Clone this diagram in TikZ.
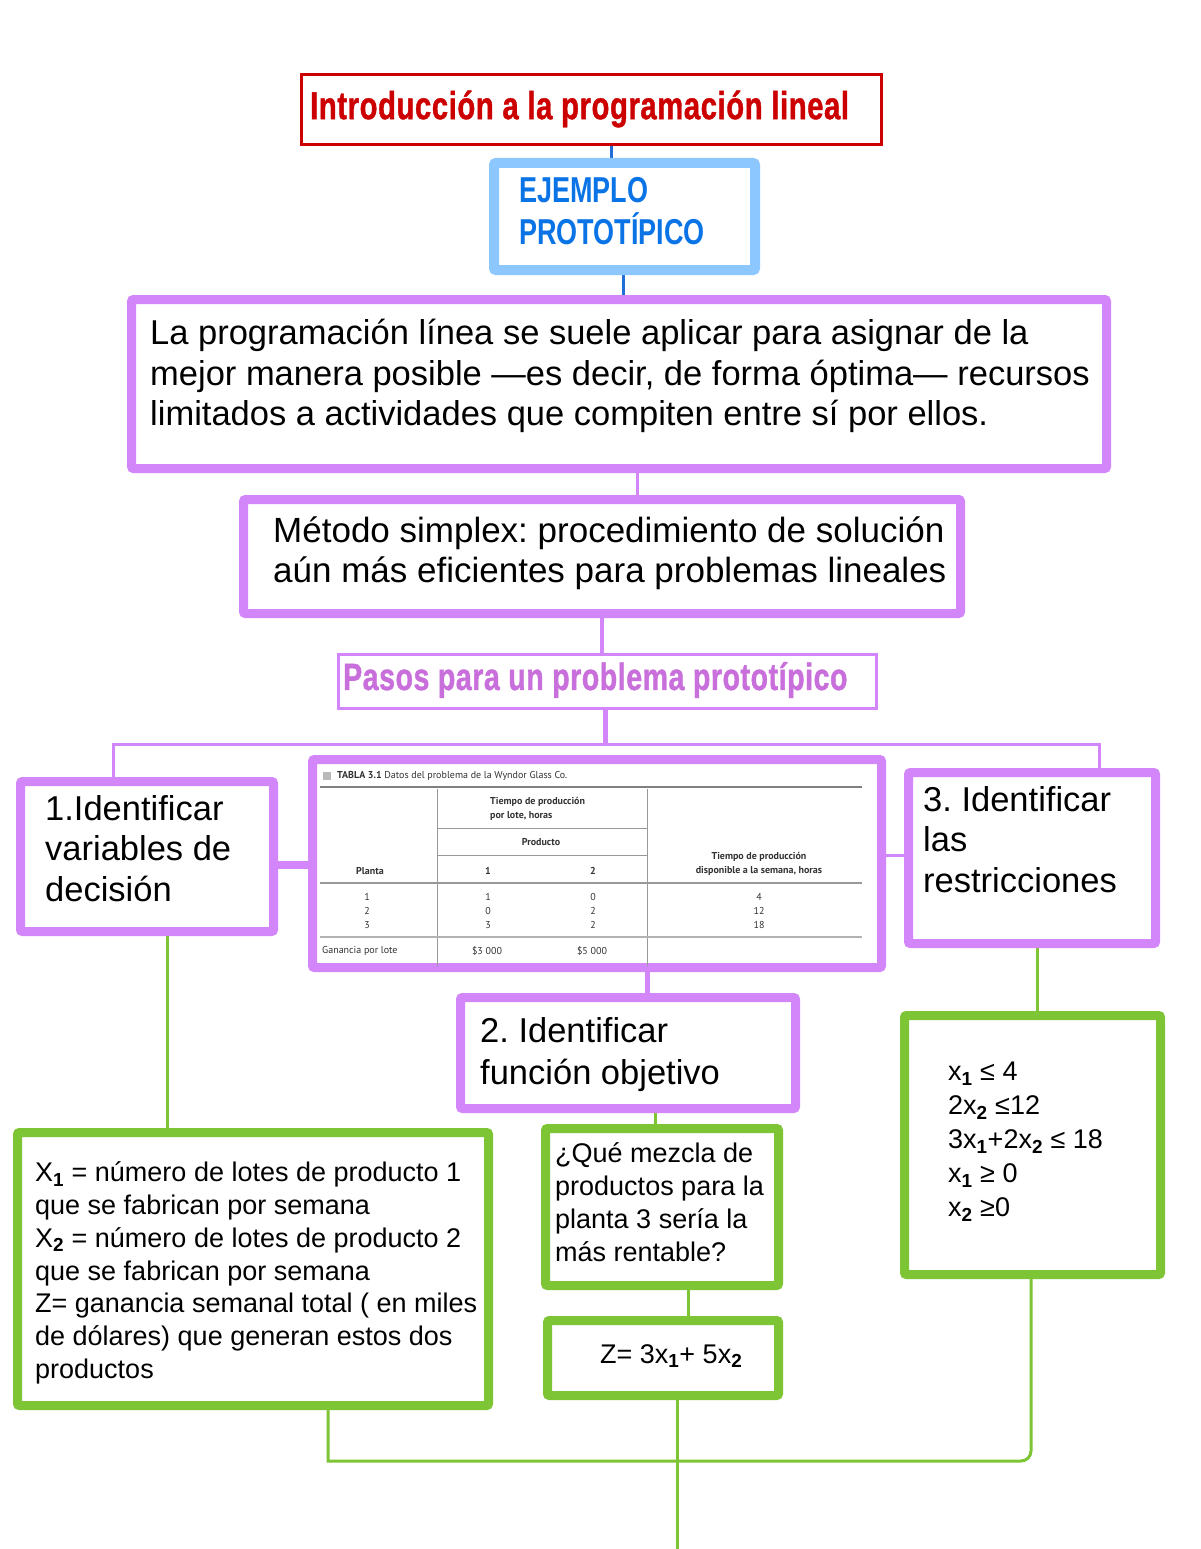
\documentclass[tikz,border=0pt]{standalone}
\usepackage{fontspec}
\setmainfont{Liberation Sans}
\newfontfamily\angosta[FakeStretch=0.75]{Liberation Sans}
\newfontfamily\angostaesp[FakeStretch=0.75, LetterSpace=1.5, FakeBold=1]{Liberation Sans}
\newfontfamily\tablafont{PT Sans}
\usetikzlibrary{backgrounds}
\frenchspacing

\definecolor{rojo}{HTML}{CC0000}
\definecolor{celeste}{HTML}{8CC8FF}
\definecolor{azul}{HTML}{0A74E6}
\definecolor{azullinea}{HTML}{1F6FD6}
\definecolor{morado}{HTML}{D386FA}
\definecolor{moradotxt}{HTML}{C96FDC}
\definecolor{verde}{HTML}{7DC535}

\newcommand{\subind}[1]{\textsubscript{\textbf{#1}}}

\begin{document}
\begin{tikzpicture}[
    x=1pt, y=-1pt,
    caja/.style={draw, fill=white, line width=9pt, rounded corners=2pt, inner sep=0pt},
    caja morada/.style={caja, draw=morado},
    caja verde/.style={caja, draw=verde},
    texto/.style={anchor=west, align=left, inner sep=0pt},
    texto grande/.style={texto, font=\fontsize{34.5}{40.5}\selectfont},
    texto medio/.style={texto, font=\fontsize{27}{32.8}\selectfont},
    enlace/.style={line width=3pt},
    celda/.style={font=\tablafont\fontsize{10}{14}\selectfont, text=black!80, inner sep=0pt},
    celda negrita/.style={celda, font=\tablafont\bfseries\fontsize{10}{14}\selectfont}
  ]

  \useasboundingbox (0,0) rectangle (1200,1549);

  % cajas
  \node[draw=rojo, line width=3pt, fill=white, minimum width=580pt, minimum height=70pt, inner sep=0pt] (titulo) at (591,109.5) {};
  \node[caja, draw=celeste, line width=10pt, minimum width=261pt, minimum height=107pt] (ejemplo) at (624.5,216.5) {};
  \node[caja morada, minimum width=975pt, minimum height=169pt] (intro) at (619,384) {};
  \node[caja morada, minimum width=717pt, minimum height=114pt] (simplex) at (602,556.5) {};
  \node[draw=morado, line width=3pt, fill=white, minimum width=538pt, minimum height=54pt, inner sep=0pt] (pasos) at (607.5,681.5) {};
  \node[caja morada, minimum width=253pt, minimum height=150pt] (paso1) at (147,856.5) {};
  \node[caja morada, minimum width=569pt, minimum height=208pt] (tabla) at (597,863.5) {};
  \node[caja morada, minimum width=247pt, minimum height=171pt] (paso3) at (1032,858) {};
  \node[caja morada, minimum width=335pt, minimum height=111pt] (paso2) at (628,1053) {};
  \node[caja verde, minimum width=471pt, minimum height=273pt] (variables) at (253,1269) {};
  \node[caja verde, minimum width=233pt, minimum height=157pt] (pregunta) at (662,1207) {};
  \node[caja verde, minimum width=231pt, minimum height=75pt] (zfun) at (663,1358) {};
  \node[caja verde, minimum width=256pt, minimum height=259pt] (restr) at (1032.5,1145) {};

  % textos
  \node[texto, text=rojo, font=\angostaesp\bfseries\fontsize{39}{44}\selectfont] (titulo-txt) at (310,109) {Introducción a la programación lineal};
  \node[texto, text=azul, font=\angosta\bfseries\fontsize{36}{42}\selectfont] (ejemplo-txt) at (519,211) {EJEMPLO\\PROTOTÍPICO};
  \node[texto grande] (intro-txt) at (150,376) {La programación línea se suele aplicar para asignar de la\\mejor manera posible —es decir, de forma óptima— recursos\\limitados a actividades que compiten entre sí por ellos.};
  \node[texto grande, font=\fontsize{35}{40.5}\selectfont] (simplex-txt) at (273,553) {Método simplex: procedimiento de solución\\aún más eficientes para problemas lineales};
  \node[texto, text=moradotxt, font=\angostaesp\bfseries\fontsize{38}{44}\selectfont] (pasos-txt) at (343,680) {Pasos para un problema prototípico};
  \node[texto grande] (paso1-txt) at (45,848.5) {1.Identificar\\variables de\\decisión};
  \node[texto grande] (paso3-txt) at (923,839.5) {3. Identificar\\las\\restricciones};
  \node[texto grande, font=\fontsize{34.5}{42}\selectfont] (paso2-txt) at (480,1055) {2. Identificar\\función objetivo};
  \node[texto medio] (variables-txt) at (35,1273) {X\subind{1} = número de lotes de producto 1\\que se fabrican por semana\\X\subind{2} = número de lotes de producto 2\\que se fabrican por semana\\Z= ganancia semanal total ( en miles\\de dólares) que generan estos dos\\productos};
  \node[texto medio] (pregunta-txt) at (555,1202) {¿Qué mezcla de\\productos para la\\planta 3 sería la\\más rentable?};
  \node[texto medio] (zfun-txt) at (600,1356) {Z= 3x\subind{1}+ 5x\subind{2}};
  \node[texto medio, font=\fontsize{27}{34}\selectfont] (restr-txt) at (948,1142) {x\subind{1} ≤ 4\\2x\subind{2} ≤12\\3x\subind{1}+2x\subind{2} ≤ 18\\x\subind{1} ≥ 0\\x\subind{2} ≥0};

  % tabla de datos
  \fill[gray!55] (323,772) rectangle (331,780);
  \node[celda, anchor=west] (tab titulo) at (337,776) {\textbf{TABLA 3.1} Datos del problema de la Wyndor Glass Co.};
  \draw[gray, line width=2.5pt] (320,787) -- (862,787);
  \draw[gray!80, line width=0.8pt] (437,789) -- (437,966) (647,789) -- (647,966)
    (437,828) -- (647,828) (437,855) -- (647,855);
  \draw[gray!80, line width=1.2pt] (320,883) -- (862,883);
  \draw[gray!60, line width=1.8pt] (320,937) -- (862,937);
  \node[celda negrita, align=left, anchor=west] (tab tiempo) at (490,809) {Tiempo de producción\\por lote, horas};
  \node[celda negrita] (tab producto) at (541,842) {Producto};
  \node[celda negrita] (tab planta) at (370,871) {Planta};
  \node[celda negrita] (tab uno) at (488,871) {1};
  \node[celda negrita] (tab dos) at (593,871) {2};
  \node[celda negrita, align=center] (tab disponible) at (759,864) {Tiempo de producción\\disponible a la semana, horas};
  \foreach \pl/\a/\b/\h [count=\i] in {1/1/0/4, 2/0/2/12, 3/3/2/18} {
    \pgfmathsetmacro{\yf}{883+14*\i}
    \node[celda] (fila\i-planta) at (367,\yf) {\pl};
    \node[celda] (fila\i-uno) at (488,\yf) {\a};
    \node[celda] (fila\i-dos) at (593,\yf) {\b};
    \node[celda] (fila\i-horas) at (759,\yf) {\h};
  }
  \node[celda, anchor=west] (tab ganancia) at (322,951) {Ganancia por lote};
  \node[celda] (tab g1) at (487,951) {\$3 000};
  \node[celda] (tab g2) at (592,951) {\$5 000};

  \coordinate (reparto) at (605,744);
  \coordinate (cierre) at (677,1461);
  \coordinate (salida) at (677,1549);

  % conectores
  \begin{scope}[on background layer]
    \fill[white] (0,0) rectangle (1200,1549);
    \draw[enlace, azullinea] ([xshift=20pt]titulo.south) -- ([xshift=20pt]titulo.south |- ejemplo.north);
    \draw[enlace, azullinea] ([xshift=-1.5pt]ejemplo.south) -- ([xshift=-1.5pt]ejemplo.south |- intro.north);
    \draw[enlace, morado] ([xshift=18pt]intro.south) -- ([xshift=18pt]intro.south |- simplex.north);
    \draw[enlace, morado, line width=4pt] (simplex.south) -- (simplex.south |- pasos.north);
    \draw[enlace, morado, line width=5pt] ([xshift=-2.5pt]pasos.south) -- (reparto);
    \draw[enlace, morado] ([xshift=-34pt]paso1.north) |- (reparto) -| ([xshift=67pt]paso3.north);
    \draw[enlace, morado, line width=8pt] ([yshift=-8pt]paso1.east) -- ([yshift=-8pt]paso1.east -| tabla.west);
    \draw[enlace, morado] ([yshift=8.5pt]tabla.east) -- ([yshift=8.5pt]tabla.east -| paso3.west);
    \draw[enlace, morado, line width=5pt] ([xshift=50pt]tabla.south) -- ([xshift=50pt]tabla.south |- paso2.north);

    \draw[enlace, verde] ([xshift=20pt]paso1.south) -- ([xshift=20pt]paso1.south |- variables.north);
    \draw[enlace, verde] ([xshift=27pt]paso2.south) -- ([xshift=27pt]paso2.south |- pregunta.north);
    \draw[enlace, verde] ([xshift=5pt]paso3.south) -- ([xshift=5pt]paso3.south |- restr.north);
    \draw[enlace, verde] ([xshift=26pt]pregunta.south) -- ([xshift=26pt]pregunta.south |- zfun.north);
    \draw[enlace, verde] ([xshift=75pt]variables.south) |- (cierre) [rounded corners=10pt] -| ([xshift=-1.5pt]restr.south);
    \draw[enlace, verde] (salida |- zfun.south) -- (salida);
  \end{scope}

\end{tikzpicture}
\end{document}
